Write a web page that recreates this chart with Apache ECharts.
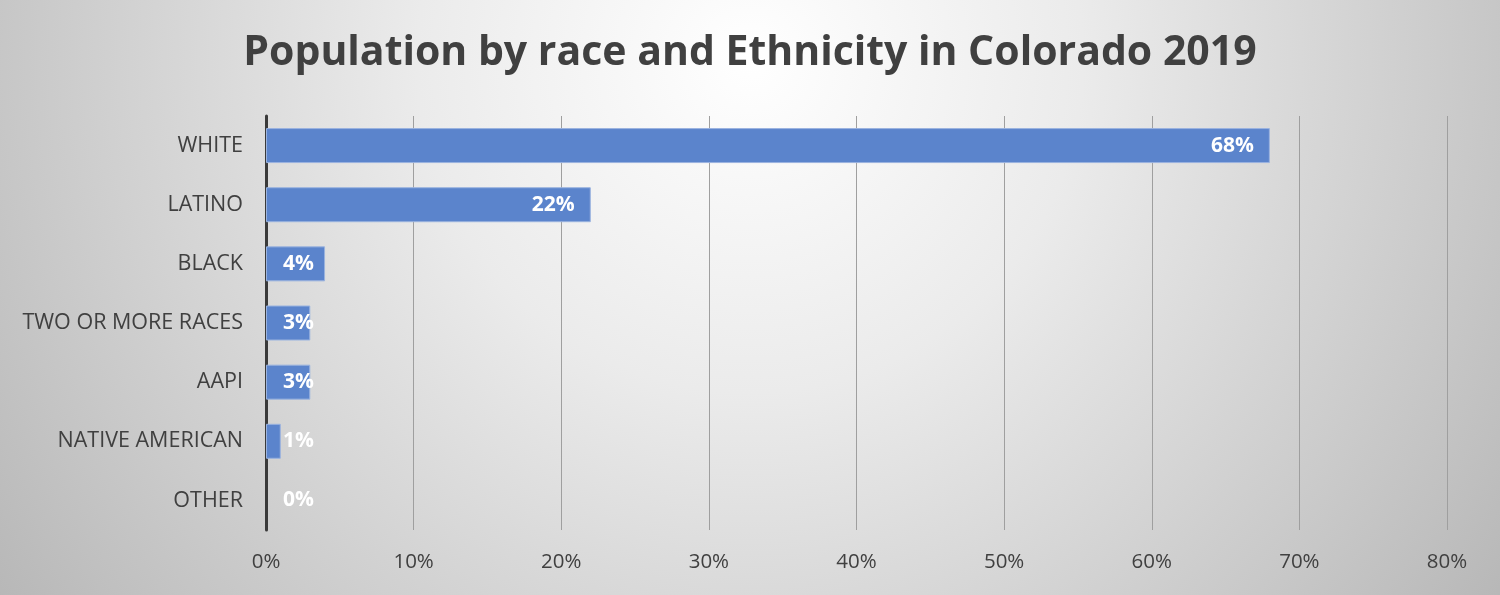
<!DOCTYPE html>
<html><head><meta charset="utf-8">
<script src="https://cdn.jsdelivr.net/npm/echarts@6/dist/echarts.min.js"></script>
<style>html,body{margin:0;padding:0;}#c{width:1500px;height:595px;}</style>
</head><body><div id="c"></div>
<script>
const titleText = 'Population by race and Ethnicity in Colorado 2019';
const categories = ['WHITE', 'LATINO', 'BLACK', 'TWO OR MORE RACES', 'AAPI', 'NATIVE AMERICAN', 'OTHER'];
const values = [68, 22, 4, 3, 3, 1, 0];
const xTicks = [0, 10, 20, 30, 40, 50, 60, 70, 80];

const FONT = 'Open Sans';
const chart = echarts.init(document.getElementById('c'), null, {renderer: 'canvas'});
const data = values.map(v => v >= 10
  ? {value: v}
  : {value: v, itemStyle: v === 0 ? {borderWidth: 0} : {},
     label: {position: [17, '50%'], align: 'left', verticalAlign: 'middle'}});
chart.setOption({
  animation: false,
  backgroundColor: {
    type: 'radial', x: 0.5, y: 0.1, r: 1.6,
    colorStops: [
      {offset: 0, color: '#ffffff'},
      {offset: 0.35, color: '#ebebeb'},
      {offset: 1, color: '#b5b5b5'}
    ]
  },
  title: {
    text: titleText, left: 'center', top: 28,
    textStyle: {fontFamily: FONT, fontWeight: 'bold', fontSize: 41, color: '#404040'}
  },
  grid: {left: 266, right: 53, top: 116, bottom: 65, containLabel: false},
  xAxis: {
    type: 'value', min: xTicks[0], max: xTicks[xTicks.length - 1], interval: 10,
    axisLine: {show: false}, axisTick: {show: false},
    splitLine: {show: true, lineStyle: {color: '#9f9f9f', width: 1}},
    axisLabel: {formatter: '{value}%', fontFamily: FONT, fontSize: 20.5, color: '#404040', margin: 22}
  },
  yAxis: {
    type: 'category', data: categories, inverse: true,
    axisLine: {show: true, lineStyle: {color: '#3a3a3a', width: 3}},
    axisTick: {show: false},
    axisLabel: {fontFamily: FONT, fontSize: 21.5, color: '#404040', margin: 23}
  },
  series: [{
    type: 'bar', data: data, barWidth: 35,
    itemStyle: {color: '#5b84cc', borderColor: '#9ab3df', borderWidth: 1},
    label: {
      show: true, position: 'insideRight', distance: 16, formatter: '{c}%',
      fontFamily: FONT, fontWeight: 'bold', fontSize: 21, color: '#ffffff'
    }
  }]
});
</script></body></html>
